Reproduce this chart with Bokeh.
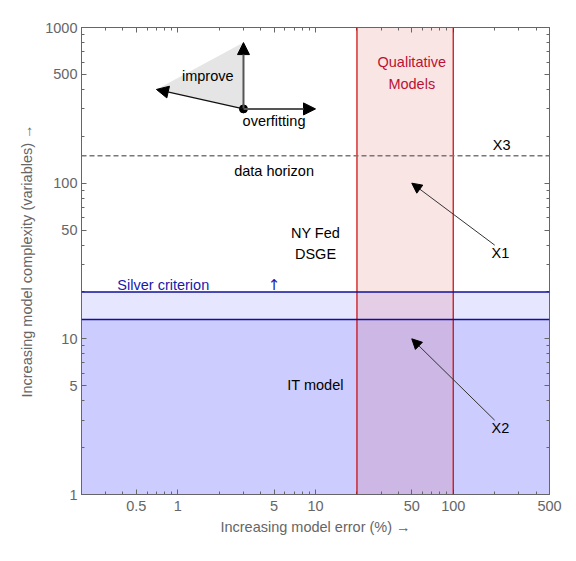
from bokeh.plotting import figure
from bokeh.models import (FixedTicker, LogAxis, Arrow, NormalHead, Span, ColumnDataSource)
from bokeh.core.properties import value
from bokeh.embed import file_html
from bokeh.resources import INLINE

# ---- data ----
x_limits = [0.2, 500]
y_limits = [1, 1000]
qualitative_band = [20, 100]          # model error (%)
silver_criterion = 20                 # variables
it_model_bound = 13.3                 # variables
data_horizon = 150                    # variables

x_tick_values = [0.5, 1, 5, 10, 50, 100, 500]
x_tick_labels = ["0.5", "1", "5", "10", "50", "100", "500"]
x_minor = [0.2, 0.3, 0.4, 0.6, 0.7, 0.8, 0.9, 2, 3, 4, 6, 7, 8, 9,
           20, 30, 40, 60, 70, 80, 90, 200, 300, 400]
y_tick_values = [1, 5, 10, 50, 100, 500, 1000]
y_tick_labels = ["1", "5", "10", "50", "100", "500", "1000"]
y_minor = [2, 3, 4, 6, 7, 8, 9, 20, 30, 40, 60, 70, 80, 90,
           200, 300, 400, 600, 700, 800, 900]

# improve / overfitting diagram (data coordinates)
diag_origin = [3, 300]
diag_up = [3, 800]
diag_right = [10, 300]
diag_left = [0.7, 400]

# X1 / X2 pointer arrows: start -> end
pointer_start_x = [200, 200]
pointer_start_y = [40, 3]
pointer_end_x = [50, 50]
pointer_end_y = [100, 10]

black_labels = ["improve", "overfitting", "data horizon", "X3", "X1", "X2",
                "NY Fed", "DSGE", "IT model"]
black_x = [1.65, 5, 5, 225, 220, 220, 10, 10, 10]
black_y = [490, 250, 120, 177, 35.5, 2.67, 48, 35, 5.05]

red_labels = ["Qualitative", "Models"]
red_x = [50, 50]
red_y = [600, 434]

blue_labels = ["Silver criterion"]
blue_x = [0.785]
blue_y = [22.3]
up_arrow_label = ["↑"]
up_arrow_x = [5]
up_arrow_y = [22.3]

FONT = "Liberation Sans"
GRAY = "#666666"

p = figure(width=568, height=553, x_axis_type="log", y_axis_type="log",
           x_range=tuple(x_limits), y_range=tuple(y_limits),
           output_backend="svg", toolbar_location=None,
           min_border_left=81, min_border_right=19, min_border_top=27,
           min_border_bottom=59)
p.xgrid.visible = False
p.ygrid.visible = False
p.outline_line_color = GRAY
p.outline_line_width = 1
p.background_fill_color = "white"
p.border_fill_color = "white"

xt = FixedTicker(ticks=x_tick_values, minor_ticks=x_minor)
yt = FixedTicker(ticks=y_tick_values, minor_ticks=y_minor)

def style_axis(ax, ticker, labels_vals, labels_txt, show_labels):
    ax.ticker = ticker
    ax.axis_line_color = GRAY
    ax.major_tick_line_color = GRAY
    ax.minor_tick_line_color = GRAY
    ax.major_tick_in = 5
    ax.major_tick_out = 0
    ax.minor_tick_in = 3
    ax.minor_tick_out = 0
    if show_labels:
        ax.major_label_overrides = {v: t for v, t in zip(labels_vals, labels_txt)}
        ax.major_label_text_font = FONT
        ax.major_label_text_font_size = "14.5px"
        ax.major_label_text_color = GRAY
        ax.axis_label_text_font = FONT
        ax.axis_label_text_font_size = "14.5px"
        ax.axis_label_text_color = GRAY
        ax.axis_label_text_font_style = "normal"
    else:
        ax.major_label_text_font_size = "0px"
        ax.major_label_text_color = None

xa = p.xaxis[0]
ya = p.yaxis[0]
style_axis(xa, xt, x_tick_values, x_tick_labels, True)
style_axis(ya, yt, y_tick_values, y_tick_labels, True)
xa.axis_label = "Increasing model error (%) →"
ya.axis_label = "Increasing model complexity (variables) →"
xa.major_label_standoff = 6
xa.axis_label_standoff = 5
ya.major_label_standoff = 4
ya.axis_label_standoff = 7

top_ax = LogAxis()
right_ax = LogAxis()
style_axis(top_ax, xt, [], [], False)
style_axis(right_ax, yt, [], [], False)
p.add_layout(top_ax, "above")
p.add_layout(right_ax, "right")

# ---- background regions ----
p.quad(left=[x_limits[0]], right=[x_limits[1]], bottom=[y_limits[0]], top=[it_model_bound],
       fill_color="#ccccff", line_color=None)
p.quad(left=[x_limits[0]], right=[x_limits[1]], bottom=[it_model_bound], top=[silver_criterion],
       fill_color="#e6e6ff", line_color=None)
p.quad(left=[qualitative_band[0]], right=[qualitative_band[1]], bottom=[y_limits[0]], top=[y_limits[1]],
       fill_color="#cc0000", fill_alpha=0.1, line_color=None)

# ---- lines ----
for loc in qualitative_band:
    p.add_layout(Span(location=loc, dimension="height", line_color="#cc0000", line_width=1.2))
for loc in [silver_criterion, it_model_bound]:
    p.add_layout(Span(location=loc, dimension="width", line_color="#10109a", line_width=1.5))
p.add_layout(Span(location=data_horizon, dimension="width", line_color="#777777",
                  line_width=1.5, line_dash="5 3"))

# ---- improve diagram ----
p.patch(x=[diag_origin[0], diag_up[0], diag_left[0]],
        y=[diag_origin[1], diag_up[1], diag_left[1]],
        fill_color="#e5e5e5", line_color=None)

def head(size):
    return NormalHead(size=size, fill_color="black", line_color="black", line_width=1)

p.add_layout(Arrow(end=head(12), x_start=diag_origin[0], y_start=diag_origin[1],
                   x_end=diag_up[0], y_end=diag_up[1], line_color="#555555", line_width=2))
p.add_layout(Arrow(end=head(12), x_start=diag_origin[0], y_start=diag_origin[1],
                   x_end=diag_right[0], y_end=diag_right[1], line_color="#555555", line_width=2))
p.add_layout(Arrow(end=head(12), x_start=diag_origin[0], y_start=diag_origin[1],
                   x_end=diag_left[0], y_end=diag_left[1], line_color="#111111", line_width=1.3))
p.scatter(x=[diag_origin[0]], y=[diag_origin[1]], size=8, color="black")

# ---- pointer arrows ----
src = ColumnDataSource(dict(xs=pointer_start_x, ys=pointer_start_y,
                            xe=pointer_end_x, ye=pointer_end_y))
p.add_layout(Arrow(end=head(10), source=src, x_start="xs", y_start="ys",
                   x_end="xe", y_end="ye", line_color="#333333", line_width=1))

# ---- texts ----
p.text(x=black_x, y=black_y, text=black_labels, text_font=value(FONT),
       text_font_size="14.5px", text_color="black", text_align="center",
       text_baseline="middle")
p.text(x=red_x, y=red_y, text=red_labels, text_font=value(FONT),
       text_font_size="14.5px", text_color="#bb1133", text_align="center",
       text_baseline="middle")
p.text(x=blue_x, y=blue_y, text=blue_labels, text_font=value(FONT),
       text_font_size="14.5px", text_color="#1a1aaa", text_align="center",
       text_baseline="middle")
p.text(x=up_arrow_x, y=up_arrow_y, text=up_arrow_label, text_font=value("DejaVu Sans"),
       text_font_size="15px", text_color="#1a1aaa", text_align="center",
       text_baseline="middle")

open("out.html", "w").write(file_html(p, INLINE))
